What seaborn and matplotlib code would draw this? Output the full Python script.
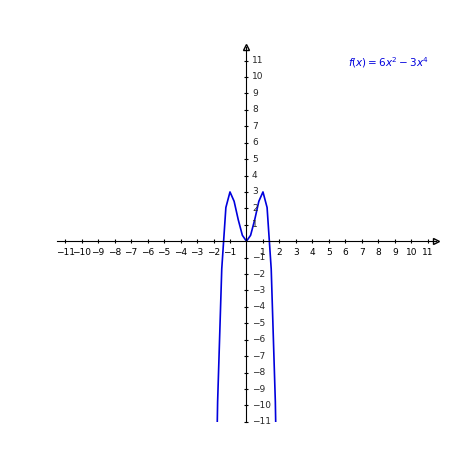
import matplotlib
matplotlib.use("Agg")
import matplotlib.pyplot as plt
import seaborn as sns

sns.set_style("white")

x_vals = [-2.0, -1.75, -1.5, -1.25, -1.0, -0.75, -0.5, -0.25, 0.0,
          0.25, 0.5, 0.75, 1.0, 1.25, 1.5, 1.75, 2.0]
y_vals = [-24.0, -9.77, -1.69, 2.05, 3.0, 2.43, 1.31, 0.36, 0.0,
          0.36, 1.31, 2.43, 3.0, 2.05, -1.69, -9.77, -24.0]
ticks = [t for t in range(-11, 12) if t != 0]


def fmt(t):
    return f"\u2212{-t}" if t < 0 else str(t)


fig, ax = plt.subplots(figsize=(4.74, 4.74), dpi=100)
sns.lineplot(x=x_vals, y=y_vals, ax=ax, color="#0000dd", linewidth=1.2, sort=False)

ax.set_xlim(-11.5, 11.5)
ax.set_ylim(-11, 11.8)
for s in ["right", "top"]:
    ax.spines[s].set_visible(False)
ax.spines["left"].set_position(("data", 0))
ax.spines["bottom"].set_position(("data", 0))
ax.spines["left"].set_color("black")
ax.spines["bottom"].set_color("black")
ax.plot(1, 0, ">k", transform=ax.get_yaxis_transform(), clip_on=False, markersize=4, markerfacecolor="none")
ax.plot(0, 1, "^k", transform=ax.get_xaxis_transform(), clip_on=False, markersize=4, markerfacecolor="none")

ax.set_xticks(ticks)
ax.set_yticks(ticks)
ax.tick_params(labelsize=6.5, length=3, direction="inout", left=True, bottom=True, colors="black")
ax.set_xticklabels([fmt(t) for t in ticks])
ax.set_yticklabels([])
for t in ticks:
    ax.annotate(fmt(t), (0, t), xytext=(4, 0), textcoords="offset points",
                ha="left", va="center", fontsize=6.5)
ax.text(0.98, 0.98, r"$f(x) = 6x^2 - 3x^4$", transform=ax.transAxes,
        color="#0000dd", fontsize=7.5, ha="right", va="top")

plt.subplots_adjust(left=0.12, right=0.92, top=0.9, bottom=0.11)
fig.savefig("out.png")
